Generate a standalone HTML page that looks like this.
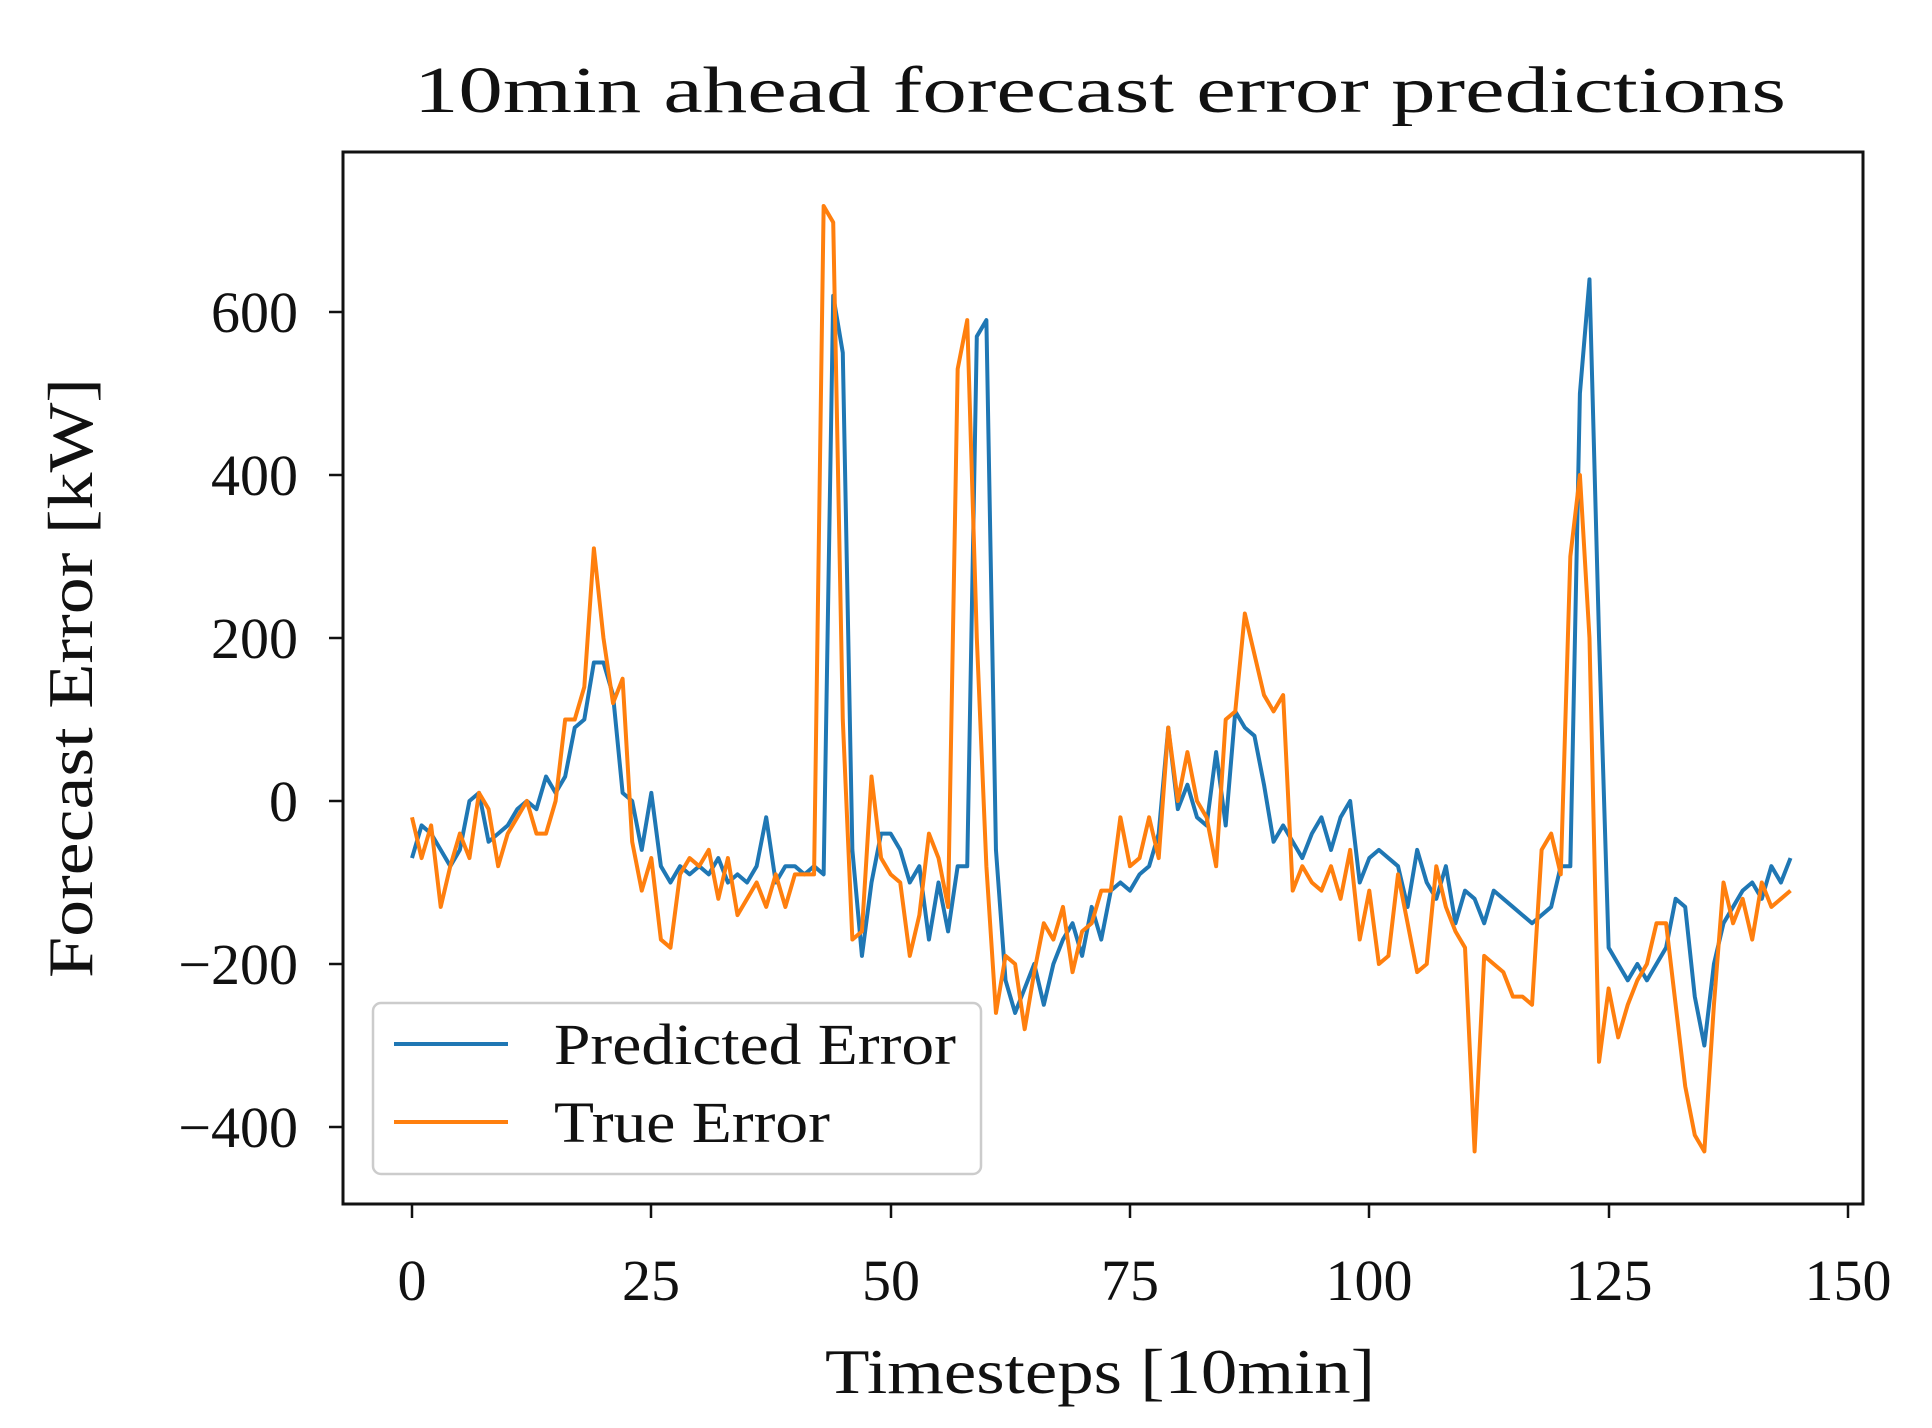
<!DOCTYPE html>
<html><head><style>body{margin:0;background:#fff}svg{display:block}text{font-family:"Liberation Serif",serif;fill:#111}</style></head>
<body>
<svg width="1932" height="1428" viewBox="0 0 1932 1428" xmlns="http://www.w3.org/2000/svg">
<text x="1100" y="112" font-size="66" text-anchor="middle" textLength="1372" lengthAdjust="spacingAndGlyphs">10min ahead forecast error predictions</text>
<g stroke="#111" stroke-width="2.5">
<line x1="412" y1="1204" x2="412" y2="1218"/><line x1="651" y1="1204" x2="651" y2="1218"/><line x1="891" y1="1204" x2="891" y2="1218"/><line x1="1130" y1="1204" x2="1130" y2="1218"/><line x1="1369" y1="1204" x2="1369" y2="1218"/><line x1="1609" y1="1204" x2="1609" y2="1218"/><line x1="1848" y1="1204" x2="1848" y2="1218"/>
<line x1="329" y1="312" x2="343" y2="312"/><line x1="329" y1="475" x2="343" y2="475"/><line x1="329" y1="638" x2="343" y2="638"/><line x1="329" y1="801" x2="343" y2="801"/><line x1="329" y1="964" x2="343" y2="964"/><line x1="329" y1="1127" x2="343" y2="1127"/>
</g>
<g font-size="58" text-anchor="middle">
<text x="412" y="1300">0</text><text x="651" y="1300">25</text><text x="891" y="1300">50</text><text x="1130" y="1300">75</text><text x="1369" y="1300">100</text><text x="1609" y="1300">125</text><text x="1848" y="1300">150</text>
</g>
<g font-size="58" text-anchor="end">
<text x="298" y="332">600</text><text x="298" y="495">400</text><text x="298" y="658">200</text><text x="298" y="821">0</text><text x="298" y="984">−200</text><text x="298" y="1147">−400</text>
</g>
<text x="1100" y="1393" font-size="64" text-anchor="middle" textLength="550" lengthAdjust="spacingAndGlyphs">Timesteps [10min]</text>
<text transform="translate(92,678) rotate(-90)" font-size="64" text-anchor="middle" textLength="600" lengthAdjust="spacingAndGlyphs">Forecast Error [kW]</text>
<g transform="matrix(9.573 0 0 -0.815 412 801)" fill="none" stroke-linejoin="round">
<polyline vector-effect="non-scaling-stroke" stroke="#1f77b4" stroke-width="4" points="0,-70 1,-30 2,-40 3,-60 4,-80 5,-60 6,0 7,10 8,-50 9,-40 10,-30 11,-10 12,0 13,-10 14,30 15,10 16,30 17,90 18,100 19,170 20,170 21,130 22,10 23,0 24,-60 25,10 26,-80 27,-100 28,-80 29,-90 30,-80 31,-90 32,-70 33,-100 34,-90 35,-100 36,-80 37,-20 38,-100 39,-80 40,-80 41,-90 42,-80 43,-90 44,620 45,550 46,-60 47,-190 48,-100 49,-40 50,-40 51,-60 52,-100 53,-80 54,-170 55,-100 56,-160 57,-80 58,-80 59,570 60,590 61,-60 62,-220 63,-260 64,-230 65,-200 66,-250 67,-200 68,-170 69,-150 70,-190 71,-130 72,-170 73,-110 74,-100 75,-110 76,-90 77,-80 78,-40 79,90 80,-10 81,20 82,-20 83,-30 84,60 85,-30 86,110 87,90 88,80 89,20 90,-50 91,-30 92,-50 93,-70 94,-40 95,-20 96,-60 97,-20 98,0 99,-100 100,-70 101,-60 102,-70 103,-80 104,-130 105,-60 106,-100 107,-120 108,-80 109,-150 110,-110 111,-120 112,-150 113,-110 114,-120 115,-130 116,-140 117,-150 118,-140 119,-130 120,-80 121,-80 122,500 123,640 124,200 125,-180 126,-200 127,-220 128,-200 129,-220 130,-200 131,-180 132,-120 133,-130 134,-240 135,-300 136,-200 137,-150 138,-130 139,-110 140,-100 141,-120 142,-80 143,-100 144,-70"/>
<polyline vector-effect="non-scaling-stroke" stroke="#ff7f0e" stroke-width="4" points="0,-20 1,-70 2,-30 3,-130 4,-80 5,-40 6,-70 7,10 8,-10 9,-80 10,-40 11,-20 12,0 13,-40 14,-40 15,0 16,100 17,100 18,140 19,310 20,200 21,120 22,150 23,-50 24,-110 25,-70 26,-170 27,-180 28,-90 29,-70 30,-80 31,-60 32,-120 33,-70 34,-140 35,-120 36,-100 37,-130 38,-90 39,-130 40,-90 41,-90 42,-90 43,730 44,710 45,100 46,-170 47,-160 48,30 49,-70 50,-90 51,-100 52,-190 53,-140 54,-40 55,-70 56,-130 57,530 58,590 59,200 60,-80 61,-260 62,-190 63,-200 64,-280 65,-210 66,-150 67,-170 68,-130 69,-210 70,-160 71,-150 72,-110 73,-110 74,-20 75,-80 76,-70 77,-20 78,-70 79,90 80,0 81,60 82,0 83,-20 84,-80 85,100 86,110 87,230 88,180 89,130 90,110 91,130 92,-110 93,-80 94,-100 95,-110 96,-80 97,-120 98,-60 99,-170 100,-110 101,-200 102,-190 103,-90 104,-150 105,-210 106,-200 107,-80 108,-130 109,-160 110,-180 111,-430 112,-190 113,-200 114,-210 115,-240 116,-240 117,-250 118,-60 119,-40 120,-90 121,300 122,400 123,200 124,-320 125,-230 126,-290 127,-250 128,-220 129,-200 130,-150 131,-150 132,-250 133,-350 134,-410 135,-430 136,-250 137,-100 138,-150 139,-120 140,-170 141,-100 142,-130 143,-120 144,-110"/>
</g>
<rect x="343" y="152" width="1520" height="1052" fill="none" stroke="#111" stroke-width="3"/>
<rect x="373" y="1003" width="608" height="171" rx="8" fill="#fff" fill-opacity="0.85" stroke="#ccc" stroke-width="2.5"/>
<line x1="394" y1="1044" x2="508" y2="1044" stroke="#1f77b4" stroke-width="4"/>
<line x1="394" y1="1122" x2="508" y2="1122" stroke="#ff7f0e" stroke-width="4"/>
<text x="554" y="1064" font-size="58" textLength="402" lengthAdjust="spacingAndGlyphs">Predicted Error</text>
<text x="554" y="1142" font-size="58" textLength="276" lengthAdjust="spacingAndGlyphs">True Error</text>
</svg>
</body></html>
